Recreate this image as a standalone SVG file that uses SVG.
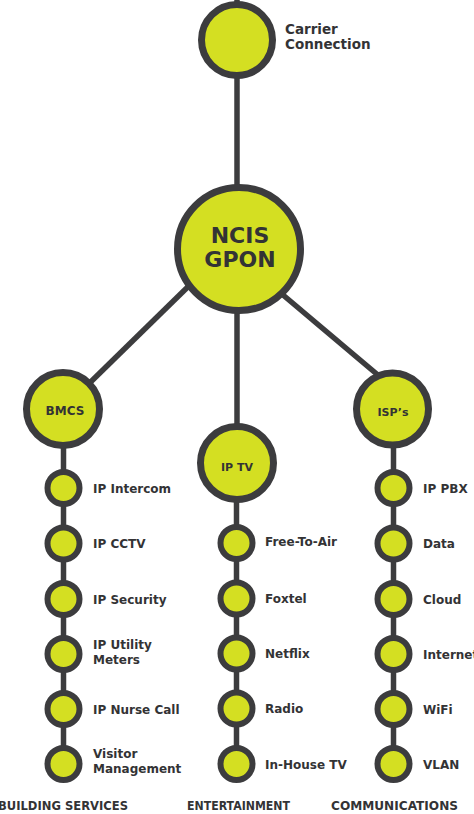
<svg xmlns="http://www.w3.org/2000/svg" width="474" height="814" viewBox="0 0 474 814">
<style>
.ln{stroke:#3c3c3e;stroke-width:5.5;fill:none}
.big{fill:#d4df22;stroke:#3c3c3e;stroke-width:7}
.sm{fill:#d4df22;stroke:#3c3c3e;stroke-width:6}
text{font-family:"DejaVu Sans",Verdana,sans-serif;font-weight:bold;fill:#333335}
.lb{font-size:12px}
.ct{text-anchor:middle}
.ft{font-size:11.5px}
</style>
<rect width="474" height="814" fill="#ffffff"/>
<g id="connectors">
<line class="ln" x1="237" y1="0" x2="237" y2="463"/>
<line class="ln" x1="63" y1="409" x2="200" y2="275"/>
<line class="ln" x1="270" y1="284" x2="385" y2="381"/>
<line class="ln" x1="63.5" y1="409" x2="63.5" y2="764"/>
<line class="ln" x1="236.5" y1="463" x2="236.5" y2="764"/>
<line class="ln" x1="393.5" y1="409" x2="393.5" y2="764"/>
</g>
<g id="carrier"><circle class="big" cx="237" cy="40" r="35.5"/><text x="285" y="33.5" style="font-size:13.5px">Carrier</text><text x="285" y="49" style="font-size:13.5px">Connection</text></g>
<g id="ncis"><circle class="big" cx="239" cy="249" r="61.5"/><text class="ct" x="240" y="243" style="font-size:22px">NCIS</text><text class="ct" x="240" y="267" style="font-size:22px">GPON</text></g>
<g id="bmcs"><circle class="big" cx="63" cy="409" r="36.5"/><text class="ct" x="65" y="415" style="font-size:12px">BMCS</text></g>
<g id="iptv"><circle class="big" cx="237" cy="463" r="36.5"/><text class="ct" x="237" y="471" style="font-size:11px">IP TV</text></g>
<g id="isps"><circle class="big" cx="392.5" cy="409" r="36"/><text class="ct" x="393" y="416" style="font-size:11px">ISP’s</text></g>

<g id="ip-intercom"><circle class="sm" cx="63.5" cy="488" r="16"/><text class="lb" x="93" y="492.5">IP Intercom</text></g>
<g id="ip-cctv"><circle class="sm" cx="63.5" cy="543.5" r="16"/><text class="lb" x="93" y="548">IP CCTV</text></g>
<g id="ip-security"><circle class="sm" cx="63.5" cy="599" r="16"/><text class="lb" x="93" y="603.5">IP Security</text></g>
<g id="ip-utility"><circle class="sm" cx="63.5" cy="654" r="16"/><text class="lb" x="93" y="649">IP Utility</text><text class="lb" x="93" y="664">Meters</text></g>
<g id="ip-nurse"><circle class="sm" cx="63.5" cy="709" r="16"/><text class="lb" x="93" y="713.5">IP Nurse Call</text></g>
<g id="visitor"><circle class="sm" cx="63.5" cy="764" r="16"/><text class="lb" x="93" y="758">Visitor</text><text class="lb" x="93" y="773">Management</text></g>

<g id="free-to-air"><circle class="sm" cx="236.5" cy="543" r="16"/><text class="lb" x="265" y="546">Free-To-Air</text></g>
<g id="foxtel"><circle class="sm" cx="236.5" cy="598.5" r="16"/><text class="lb" x="265" y="603">Foxtel</text></g>
<g id="netflix"><circle class="sm" cx="236.5" cy="653.5" r="16"/><text class="lb" x="265" y="658">Netflix</text></g>
<g id="radio"><circle class="sm" cx="236.5" cy="708.5" r="16"/><text class="lb" x="265" y="713">Radio</text></g>
<g id="inhouse"><circle class="sm" cx="236.5" cy="764" r="16"/><text class="lb" x="265" y="768.5">In-House TV</text></g>

<g id="ip-pbx"><circle class="sm" cx="393.5" cy="488" r="16"/><text class="lb" x="423" y="492.5">IP PBX</text></g>
<g id="data"><circle class="sm" cx="393.5" cy="543.5" r="16"/><text class="lb" x="423" y="548">Data</text></g>
<g id="cloud"><circle class="sm" cx="393.5" cy="599" r="16"/><text class="lb" x="423" y="603.5">Cloud</text></g>
<g id="internet"><circle class="sm" cx="393.5" cy="654" r="16"/><text class="lb" x="423" y="658.5">Internet</text></g>
<g id="wifi"><circle class="sm" cx="393.5" cy="709" r="16"/><text class="lb" x="423" y="713.5">WiFi</text></g>
<g id="vlan"><circle class="sm" cx="393.5" cy="764" r="16"/><text class="lb" x="423" y="768.5">VLAN</text></g>

<g id="categories">
<text class="ft" x="-2" y="810" textLength="130" lengthAdjust="spacingAndGlyphs">BUILDING SERVICES</text>
<text class="ft" x="187" y="810" textLength="103" lengthAdjust="spacingAndGlyphs">ENTERTAINMENT</text>
<text class="ft" x="331" y="810" textLength="127" lengthAdjust="spacingAndGlyphs">COMMUNICATIONS</text>
</g>
</svg>
